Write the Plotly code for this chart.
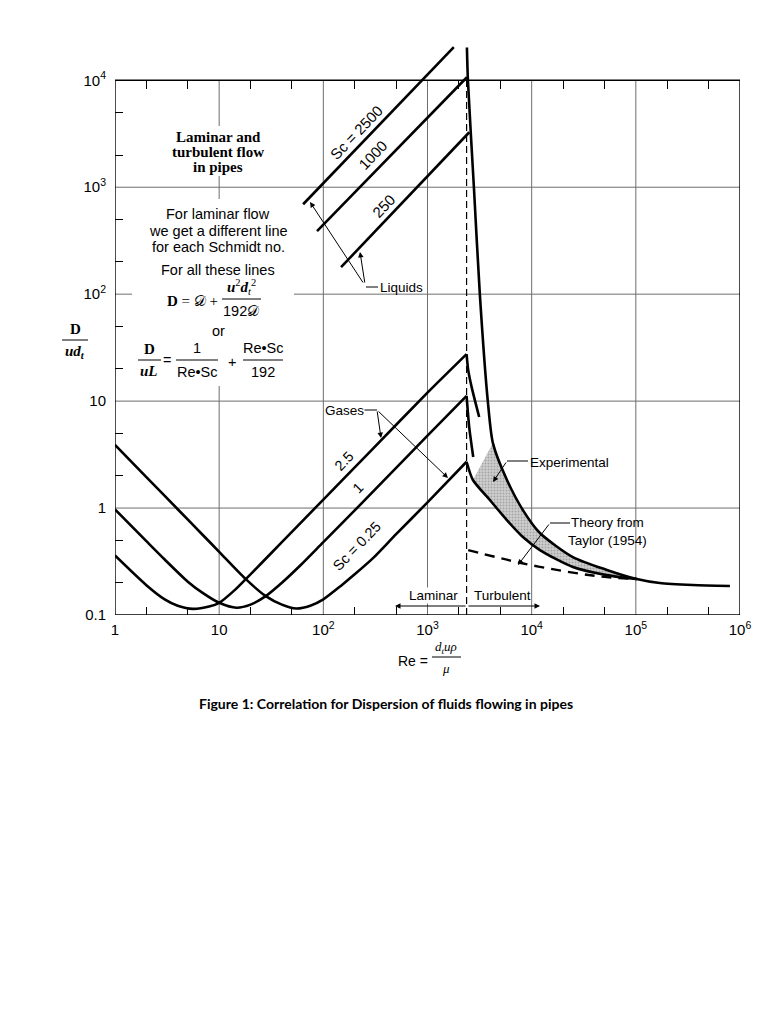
import plotly.graph_objects as go

# ─────────────────────────────────────────
# Datos (Re, D/ud_t)
# ─────────────────────────────────────────

# gases — una curva en V por número de Schmidt
re_sc025 = [1, 2, 4, 7, 10, 17.7, 28, 40, 55, 75, 100, 150, 200, 300, 500, 1000, 2373]
d_sc025 = [3.9, 1.95, 0.975, 0.557, 0.39, 0.22, 0.15, 0.125, 0.115, 0.122, 0.14, 0.19, 0.24, 0.34, 0.57, 1.13, 2.71]

re_sc1 = [1, 2, 3, 5, 7, 10, 14.7, 20, 28, 40, 60, 100, 200, 500, 1000, 2373]
d_sc1 = [0.97, 0.49, 0.33, 0.205, 0.16, 0.13, 0.117, 0.125, 0.15, 0.2, 0.29, 0.48, 0.95, 2.38, 4.75, 11.2]

re_sc25 = [1, 2, 3, 4, 5.6, 8, 10, 14, 17.7, 25, 40, 100, 300, 1000, 2373]
d_sc25 = [0.36, 0.19, 0.14, 0.122, 0.114, 0.12, 0.13, 0.17, 0.213, 0.3, 0.48, 1.2, 3.6, 12, 27.5]

# líquidos — rectas
re_liq2500 = [64, 1790]
d_liq2500 = [693, 20400]
re_liq1000 = [87, 2390]
d_liq1000 = [388, 10670]
re_liq250 = [148, 2520]
d_liq250 = [179, 3266]

# caída tras la transición (tramos cortos de Sc = 2.5 y Sc = 1)
re_drop25 = [2373, 2460, 2650, 3135]
d_drop25 = [27.5, 19.5, 13.6, 7.1]
re_drop1 = [2373, 2513, 2748]
d_drop1 = [11.2, 5.75, 3.0]

# flujo turbulento — curva experimental superior e inferior
re_turb = [2390, 2443, 2789, 3184, 3800, 4245, 5790, 8240, 12000, 24850, 52700, 102000, 170000, 352000, 800000]
d_turb = [20300, 10000, 1000, 98, 9.8, 4.05, 1.83, 0.957, 0.584, 0.348, 0.264, 0.217, 0.199, 0.191, 0.187]

re_low = [2373, 2729, 3970, 5780, 8240, 12000, 24850, 52700, 102000]
d_low = [2.71, 1.83, 1.19, 0.772, 0.536, 0.405, 0.281, 0.236, 0.217]

# teoría de Taylor (1954)
re_taylor = [2460, 7700, 24850, 52700, 102000]
d_taylor = [0.405, 0.308, 0.249, 0.226, 0.217]

# transición laminar / turbulento
re_trans = [2373, 2373]
d_trans = [0.1, 10000]

# ejes
re_ticks = [1, 10, 100, 1e3, 1e4, 1e5, 1e6]
re_ticktext = ["1", "10", "10<sup>2</sup>", "10<sup>3</sup>", "10<sup>4</sup>", "10<sup>5</sup>", "10<sup>6</sup>"]
re_minor = [2, 5, 20, 50, 200, 500, 2e3, 5e3, 2e4, 5e4, 2e5, 5e5]
d_ticks = [0.1, 1, 10, 100, 1e3, 1e4]
d_ticktext = ["0.1", "1", "10", "10<sup>2</sup>", "10<sup>3</sup>", "10<sup>4</sup>"]
d_minor = [0.2, 0.5, 2, 5, 20, 50, 200, 500, 2e3, 5e3]

# ─────────────────────────────────────────
# Geometría de la página (px de pantalla; el body añade 8 px)
# ─────────────────────────────────────────
OFF = 8
X0, X1, Y0, Y1 = 115, 740, 45, 615      # área de trazado en pantalla
W, H = X1 - X0, Y1 - Y0
FIG_W, FIG_H = 768 - OFF, 1024 - OFF
Y_TOP = 4.33
SANS = "Liberation Sans"
SERIF = "Liberation Serif"
NEGRO = "black"
GRIS = "#6e6e6e"


def px(x):
    return (x - X0) / W


def py(y):
    return (Y1 - y) / H


def dx(x):
    # pantalla -> valor de Re
    return 10 ** ((x - X0) / W * 6)


def dy(y):
    # pantalla -> valor de D/ud_t
    return 10 ** (-1 + (Y1 - y) / H * (Y_TOP + 1))


def texto(x, y, s, size=14, family=SANS, angle=0, bg=None, xanchor="center"):
    d = dict(x=px(x), y=py(y), xref="paper", yref="paper", text=s, showarrow=False,
             font=dict(size=size, family=family, color=NEGRO), textangle=angle,
             xanchor=xanchor, yanchor="middle", borderpad=0)
    if bg:
        d["bgcolor"] = bg
    return d


def flecha(xt, yt, x0, y0, head=2):
    return dict(x=px(xt), y=py(yt), xref="paper", yref="paper", text="",
                ax=x0 - xt, ay=y0 - yt, axref="pixel", ayref="pixel",
                showarrow=True, arrowhead=head, arrowsize=1.1, arrowwidth=1,
                arrowcolor=NEGRO, standoff=0)


def raya(x0, y0, x1, y1, w=1):
    return dict(type="line", xref="paper", yref="paper", x0=px(x0), y0=py(y0),
                x1=px(x1), y1=py(y1), line=dict(color=NEGRO, width=w))


def blanco(x0, y0, x1, y1):
    # en ejes de datos, para quedar en la misma capa que la rejilla
    return dict(type="rect", xref="x", yref="y", x0=dx(x0), x1=dx(x1), y0=dy(y1), y1=dy(y0),
                fillcolor="white", line=dict(width=0), layer="below")


fig = go.Figure()

# sombreado experimental
fig.add_trace(go.Scatter(
    x=re_turb[5:12] + re_low[::-1][:8],
    y=d_turb[5:12] + d_low[::-1][:8],
    mode="none", fill="toself", fillcolor="#c4c4c4",
    fillpattern=dict(shape=".", fgcolor="#7a7a7a", bgcolor="#cfcfcf", size=3, solidity=0.35),
    showlegend=False, hoverinfo="skip",
))

curvas = [
    (re_sc025, d_sc025), (re_sc1, d_sc1), (re_sc25, d_sc25),
    (re_drop25, d_drop25), (re_drop1, d_drop1),
    (re_turb, d_turb), (re_low, d_low),
]
for xs, ys in curvas:
    fig.add_trace(go.Scatter(x=xs, y=ys, mode="lines",
                             line=dict(color=NEGRO, width=2.6, shape="spline", smoothing=0.7),
                             showlegend=False, hoverinfo="skip"))

for xs, ys in [(re_liq2500, d_liq2500), (re_liq1000, d_liq1000), (re_liq250, d_liq250)]:
    fig.add_trace(go.Scatter(x=xs, y=ys, mode="lines", line=dict(color=NEGRO, width=2.6),
                             showlegend=False, hoverinfo="skip"))

fig.add_trace(go.Scatter(x=re_taylor, y=d_taylor, mode="lines",
                         line=dict(color=NEGRO, width=2.4, dash="10px,7px", shape="spline"),
                         showlegend=False, hoverinfo="skip"))
fig.add_trace(go.Scatter(x=re_trans, y=d_trans, mode="lines",
                         line=dict(color=NEGRO, width=1.2, dash="7px,4px"),
                         showlegend=False, hoverinfo="skip"))

# eje auxiliar para las marcas del borde superior (en 10^4)
fig.add_trace(go.Scatter(x=[10], y=[1], xaxis="x2", mode="markers", opacity=0,
                         showlegend=False, hoverinfo="skip"))

# rejilla de décadas (dentro del marco)
shapes = []
for v in re_ticks[1:-1]:
    shapes.append(dict(type="line", xref="x", yref="y", x0=v, x1=v, y0=d_ticks[0], y1=d_ticks[-1],
                       line=dict(color=GRIS, width=1), layer="below"))
for v in d_ticks[1:-1]:
    shapes.append(dict(type="line", xref="x", yref="y", x0=re_ticks[0], x1=re_ticks[-1], y0=v, y1=v,
                       line=dict(color=GRIS, width=1), layer="below"))

shapes += [
    # huecos blancos tras los textos de la izquierda
    blanco(160, 126, 276, 176),
    blanco(132, 199, 294, 386),
    # marco
    dict(type="rect", xref="x", yref="y", x0=re_ticks[0], x1=re_ticks[-1], y0=d_ticks[0], y1=d_ticks[-1],
         line=dict(color=NEGRO, width=1.4), layer="above"),
    # barras de fracción
    raya(222, 299, 261, 299), raya(138, 360, 161, 360), raya(176, 360, 218, 360), raya(243, 360, 283, 360),
    raya(62, 340, 88, 340), raya(432, 657, 461, 657),
    # guías de las etiquetas
    raya(364, 410, 377, 410), raya(366, 287, 378, 287), raya(507, 461, 528, 461), raya(550, 523, 570, 523),
]

ann = [
    texto(218, 137, "<b>Laminar and</b>", size=15, family=SERIF),
    texto(218, 152, "<b>turbulent flow</b>", size=15, family=SERIF),
    texto(218, 167, "<b>in pipes</b>", size=15, family=SERIF),
    texto(218, 214, "For laminar flow", size=14.5),
    texto(218, 231, "we get a different line", size=14.5),
    texto(218, 247, "for each Schmidt no.", size=14.5),
    texto(218, 270, "For all these lines", size=14.5),
    texto(192, 301, "<b>D</b> = 𝒟 +", size=15, family=SERIF),
    texto(241, 287, "<b><i>u</i></b><sup>2</sup><b><i>d</i></b><sub><i>t</i></sub><sup>2</sup>", size=15, family=SERIF),
    texto(241, 311, "192𝒟", size=14.5),
    texto(218, 331, "or", size=14.5),
    texto(149, 349, "<b>D</b>", size=15, family=SERIF),
    texto(149, 371, "<b><i>uL</i></b>", size=15, family=SERIF),
    texto(167, 360, "=", size=14.5),
    texto(197, 348, "1", size=14.5),
    texto(197, 372, "Re•Sc", size=14.5),
    texto(232, 362, "+", size=14.5),
    texto(263, 348, "Re•Sc", size=14.5),
    texto(263, 372, "192", size=14.5),
    # títulos de ejes
    texto(75, 329, "<b>D</b>", size=15, family=SERIF),
    texto(75, 352, "<b><i>ud<sub>t</sub></i></b>", size=15, family=SERIF),
    texto(413, 661, "Re =", size=14),
    texto(446, 647, "<i>d<sub>t</sub>uρ</i>", size=13, family=SERIF),
    texto(446, 668, "<i>μ</i>", size=13, family=SERIF),
    texto(386, 703, "<b>Figure 1: Correlation for Dispersion of fluids flowing in pipes</b>", size=14, family="Lato"),
    # etiquetas de Schmidt
    texto(356, 132, "Sc = 2500", size=15, angle=-46),
    texto(372, 155, "1000", size=15, angle=-46),
    texto(383, 206, "250", size=15, angle=-46),
    texto(344, 461, "2.5", size=14.5, angle=-46),
    texto(358, 488, "1", size=14.5, angle=-46),
    texto(357, 546, "Sc = 0.25", size=14.5, angle=-46),
    # rótulos con flechas
    texto(344, 410, "Gases", size=13.5, bg="white"),
    texto(379, 287, "Liquids", size=13.5, xanchor="left"),
    texto(529, 462, "Experimental", size=13.5, xanchor="left"),
    texto(607, 531, "Theory from<br>Taylor (1954)", size=13.5),
    texto(433, 595, "Laminar", size=13.5, bg="white"),
    texto(502, 595, "Turbulent", size=13.5),
    flecha(381, 438, 377, 410), flecha(448, 478, 377, 410),
    flecha(310, 202, 364, 284), flecha(360, 252, 365, 284),
    flecha(493, 482, 507, 461),
    flecha(518, 565, 550, 523),
    flecha(395, 606, 467, 606), flecha(540, 606, 467, 606),
]

fig.update_layout(
    width=FIG_W, height=FIG_H,
    margin=dict(l=X0 - OFF, r=FIG_W - (X1 - OFF), t=Y0 - OFF, b=FIG_H - (Y1 - OFF)),
    paper_bgcolor="white", plot_bgcolor="white",
    showlegend=False,
    font=dict(family=SANS, size=14, color=NEGRO),
    shapes=shapes,
    annotations=ann,
    xaxis=dict(
        type="log", range=[0, 6], tickvals=re_ticks, ticktext=re_ticktext,
        ticks="", showgrid=False, zeroline=False,
        showline=False, tickfont=dict(size=15), ticklabelstandoff=4,
        minor=dict(tickvals=re_minor, ticks="inside", ticklen=8, tickcolor=NEGRO, tickwidth=1, showgrid=False),
    ),
    xaxis2=dict(
        type="log", range=[0, 6], overlaying="x", anchor="free", position=py(80), side="top",
        tickvals=re_minor, ticks="inside", ticklen=8, tickcolor=NEGRO, showticklabels=False,
        showgrid=False, showline=False, zeroline=False,
    ),
    yaxis=dict(
        type="log", range=[-1, Y_TOP], tickvals=d_ticks, ticktext=d_ticktext,
        ticks="", showgrid=False, zeroline=False,
        showline=False, mirror="ticks", tickfont=dict(size=15), ticklabelstandoff=8,
        minor=dict(tickvals=d_minor, ticks="inside", ticklen=8, tickcolor=NEGRO, tickwidth=1, showgrid=False),
    ),
)

fig.write_html("out.html")
